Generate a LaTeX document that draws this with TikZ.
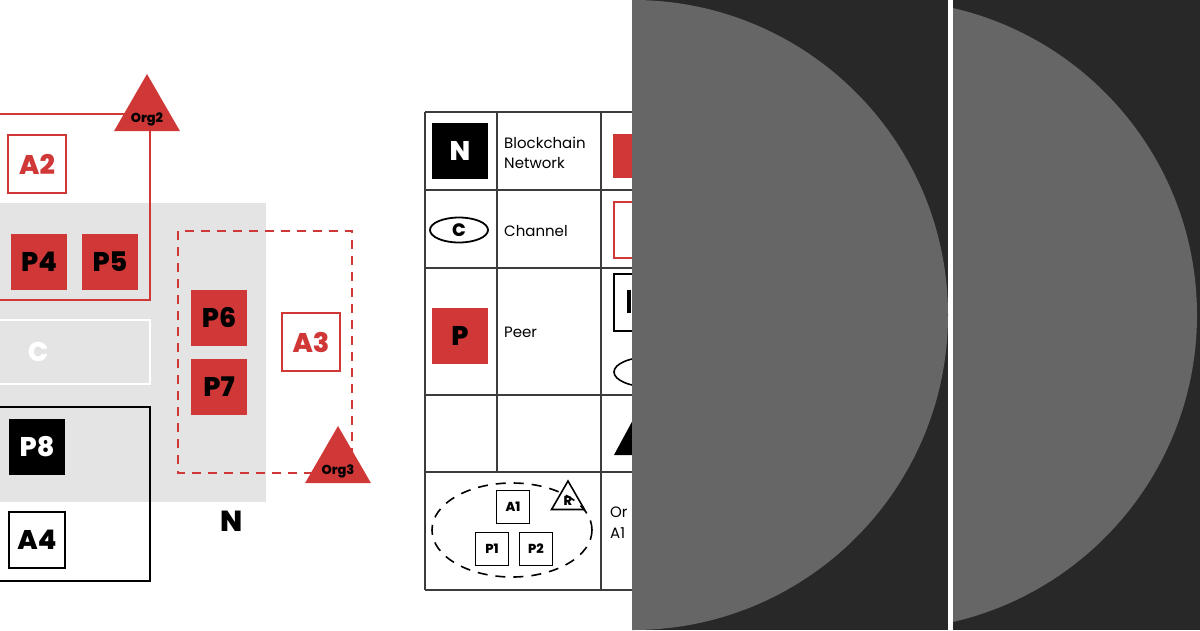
\documentclass[tikz,border=0pt]{standalone}
\usepackage{fontspec}
\setmainfont{Poppins}
\newfontfamily\heavyfont{Poppins ExtraBold}
\usetikzlibrary{positioning,calc,shapes.geometric}
\definecolor{hfred}{RGB}{208,56,56}
\definecolor{netgray}{RGB}{228,228,228}
\definecolor{panel}{RGB}{40,40,40}
\definecolor{disc}{RGB}{102,102,102}
\definecolor{rule}{RGB}{60,60,60}
\tikzset{
  blk/.style={rectangle,inner sep=0pt,minimum size=56pt,font=\fontsize{27}{27}\heavyfont},
  peerblk/.style={blk,fill=hfred,text=black},
  blkpeer/.style={blk,fill=black,text=white},
  appblk/.style={blk,draw=hfred,line width=2pt,text=hfred},
  blkapp/.style={blk,draw=black,line width=2pt,text=black},
  minblk/.style={rectangle,draw,line width=1.6pt,inner sep=0pt,minimum size=33pt,font=\fontsize{13}{13}\heavyfont},
  orgtri/.style={regular polygon,regular polygon sides=3,fill=hfred,inner sep=0pt,minimum size=76pt},
  orgtxt/.style={font=\fontsize{13}{13}\heavyfont,text=black},
  orgline/.style={hfred,line width=2pt},
  orgdash/.style={hfred,line width=2pt,dash pattern=on 9pt off 7pt},
  lbl/.style={font=\fontsize{15}{20}\selectfont,align=left,anchor=west,inner sep=0pt},
  tbl/.style={rule,line width=1.3pt}
}

\begin{document}
\begin{tikzpicture}[x=1pt,y=-1pt]
  \useasboundingbox (0,0) rectangle (1200,630);
  \fill[white] (0,0) rectangle (1200,630);

  % Network N
  \fill[netgray] (0,203) rectangle (266,502);
  \node[font=\fontsize{29}{29}\heavyfont] (nlbl) at (232,521) {N};

  % Org2
  \draw[orgline] (0,114) -| (150,300) -- (0,300);
  \node[orgtri] (org2) at (147,112) {};
  \node[orgtxt] (org2lbl) at ([yshift=-7pt]org2.center) {Org2};
  \node[appblk, minimum size=58pt] (A2) at (37,164) {A2};
  \node[peerblk] (P4) at (39,262) {P4};
  \node[peerblk] (P5) at (110,262) {P5};

  % Channel C
  \draw[white, line width=2pt] (-10,320) rectangle (150,384);
  \node[font=\fontsize{27}{27}\heavyfont, text=white] (C) at (38,352) {C};

  % Org4
  \draw[black, line width=2pt] (-5,407) rectangle (150,581);
  \node[blkpeer] (P8) at (37,447) {P8};
  \node[blkapp] (A4) at (37,540) {A4};

  % Org3
  \draw[orgdash] (178,231) rectangle (352,473);
  \node[peerblk] (P6) at (219,318) {P6};
  \node[peerblk] (P7) at (219,387) {P7};
  \node[appblk, minimum size=58pt] (A3) at (311,342) {A3};
  \node[orgtri] (org3) at (338,464) {};
  \node[orgtxt] (org3lbl) at ([yshift=-7pt]org3.center) {Org3};

  % Legend table
  \foreach \y in {112,190,268,395,472,590}
    \draw[tbl] (425,\y) -- (640,\y);
  \draw[tbl] (425,112) -- (425,590);
  \draw[tbl] (497,112) -- (497,472);
  \draw[tbl] (601,112) -- (601,590);

  \node[blkpeer] (legN) at (460,151) {N};
  \node[lbl] (legNtxt) at (504,153) {Blockchain\\Network};
  \node[ellipse, draw, line width=1.8pt, minimum width=58pt, minimum height=25pt, inner sep=0pt, font=\fontsize{18}{18}\heavyfont] (legC) at (459,230) {C};
  \node[lbl] (legCtxt) at (504,231) {Channel};
  \node[peerblk] (legP) at (460,336) {P};
  \node[lbl] (legPtxt) at (504,332) {Peer};

  % Organisation symbol
  \draw[line width=1.6pt, dash pattern=on 10pt off 8pt] (512,530) ellipse (80 and 47);
  \node[minblk] (legA1) at (513,507) {A1};
  \node[minblk] (legP1) at (492,549) {P1};
  \node[minblk] (legP2) at (536,549) {P2};
  \node[regular polygon, regular polygon sides=3, draw, line width=1.6pt, inner sep=0pt, minimum size=38pt] (legR) at (568,500) {};
  \node[font=\fontsize{13}{13}\heavyfont] (legRtxt) at ([yshift=-1pt]legR.center) {R};
  \node[lbl] (legOtxt) at (610,512) {Or};
  \node[lbl] (legAtxt) at (610,533) {A1};

  % Third column (cut off)
  \fill[hfred] (613,134) rectangle (645,178);
  \draw[orgline] (614,202) rectangle (645,258);
  \draw[black, line width=2pt] (614,274) rectangle (645,331);
  \fill[black] (627,290) rectangle (631,313);
  \draw[black, line width=1.6pt] (650,372) ellipse (36 and 15);
  \fill[black] (614,455) -- (648,392) -- (682,455) -- cycle;

  % Dark panels
  \fill[panel] (632,0) rectangle (948,630);
  \fill[panel] (953,0) rectangle (1200,630);
  \begin{scope}
    \clip (632,0) rectangle (948,630);
    \fill[disc] (633,315) circle (315);
  \end{scope}
  \begin{scope}
    \clip (953,0) rectangle (1200,630);
    \fill[disc] (882,315) circle (315);
  \end{scope}
\end{tikzpicture}
\end{document}
